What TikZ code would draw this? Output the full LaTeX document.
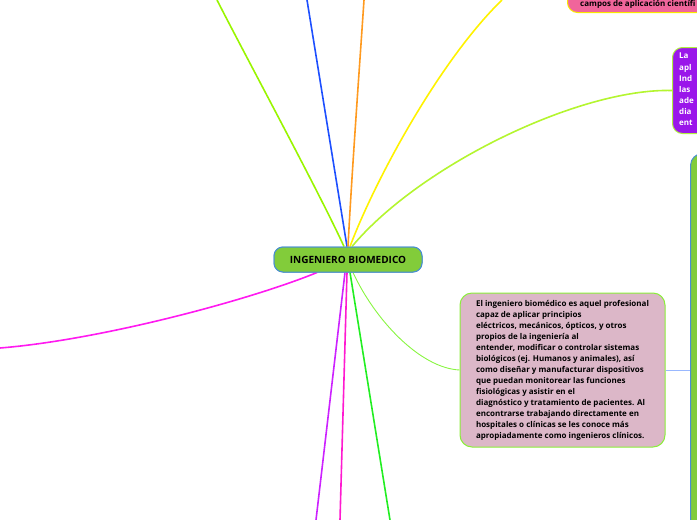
\documentclass[tikz,border=0pt]{standalone}
\usepackage{fontspec}
\setmainfont{Open Sans}
\begin{document}
\begin{tikzpicture}[x=1pt,y=-1pt,
  conn/.style={line width=1.6pt},
  thin conn/.style={line width=0.9pt},
  mainbox/.style={draw=boxblue, fill=boxgreen, line width=1pt, rounded corners=9pt,
    minimum width=148pt, minimum height=25pt, inner sep=0pt,
    font=\bfseries\fontsize{10}{12}\selectfont},
  descbox/.style={draw=descborder, fill=descfill, line width=1pt, rounded corners=12pt,
    minimum width=205pt, minimum height=154pt, align=left, inner sep=0pt,
    font=\bfseries\fontsize{8}{11}\selectfont},
]
\definecolor{boxgreen}{HTML}{82CC3A}
\definecolor{boxblue}{HTML}{4A8FD0}
\definecolor{descfill}{HTML}{DCB7C8}
\definecolor{descborder}{HTML}{8AEE3A}
\definecolor{purplefill}{HTML}{9A16EA}
\definecolor{purpleborder}{HTML}{B0EE40}
\definecolor{pinkfill}{HTML}{F0659B}
\definecolor{pinkborder}{HTML}{F8E800}
\definecolor{lgreen}{HTML}{99F500}
\definecolor{lblue}{HTML}{1D4FFF}
\definecolor{lorange}{HTML}{FF9A1F}
\definecolor{lyellow}{HTML}{FFF200}
\definecolor{lyg}{HTML}{B4F530}
\definecolor{lmag}{HTML}{FF1AF0}
\definecolor{lpurp}{HTML}{CC22FF}
\definecolor{lpink}{HTML}{FF1AD0}
\definecolor{lgreen2}{HTML}{22EE22}
\definecolor{lgreen3}{HTML}{88F540}
\definecolor{lsky}{HTML}{99B8FF}

\useasboundingbox (0,0) rectangle (697,520);

% free ends
\coordinate (eA) at (217,0);
\coordinate (eB) at (307,0);
\coordinate (eC) at (364,0);
\coordinate (eD) at (502,0);
\coordinate (eE) at (0,348);
\coordinate (eF) at (316,520);
\coordinate (eG) at (340,520);
\coordinate (eH) at (390,520);

% boxes at right edge
\node[draw=pinkborder, fill=pinkfill, line width=1pt, rounded corners=10pt,
  minimum width=160pt, minimum height=33pt, anchor=south west, inner sep=0pt]
  (pink) at (567,13) {};
\node[anchor=base west, inner sep=0pt, font=\bfseries\fontsize{8}{9}\selectfont]
  (pinkt) at (580,6.5) {campos de aplicación científi};

\node[draw=purpleborder, fill=purplefill, line width=1pt, rounded corners=10pt,
  minimum width=60pt, minimum height=86pt, anchor=north west, inner sep=0pt]
  (purp) at (672,47) {};
\node[anchor=north west, inner sep=0pt, align=left, text=white,
  font=\bfseries\fontsize{8}{11.1}\selectfont]
  (purpt) at (679,53) {La\\apl\\Ind\\las\\ade\\dia\\ent};

\node[draw=boxblue, fill=boxgreen, line width=1pt, rounded corners=12pt,
  minimum width=40pt, minimum height=400pt, anchor=north west, inner sep=0pt]
  (big) at (690,153) {};

% center node
\node[mainbox] (c) at (348,259.5) {INGENIERO BIOMEDICO};

% description node
\node[descbox] (d) at (562.5,370) {El ingeniero biomédico es aquel profesional\\
capaz de aplicar principios\\
eléctricos, mecánicos, ópticos, y otros\\
propios de la ingeniería al\\
entender, modificar o controlar sistemas\\
biológicos (ej. Humanos y animales), así\\
como diseñar y manufacturar dispositivos\\
que puedan monitorear las funciones\\
fisiológicas y asistir en el\\
diagnóstico y tratamiento de pacientes. Al\\
encontrarse trabajando directamente en\\
hospitales o clínicas se les conoce más\\
apropiadamente como ingenieros clínicos.};

% connectors
\draw[conn, lgreen] ([xshift=-4pt]c.north) .. controls (318,190) and (245,55) .. (eA);
\draw[conn, lblue] ([xshift=-1pt]c.north) -- (eB);
\draw[conn, lorange] ([xshift=0pt]c.north) .. controls (352,170) and (360,60) .. (eC);
\draw[conn, lyellow] ([xshift=2pt]c.north) .. controls (375,180) and (440,60) .. (eD);
\draw[conn, lyg] ([xshift=4pt]c.north) .. controls (420,165) and (580,88) .. (purp.west);
\draw[conn, lmag] ([xshift=-31pt]c.south) .. controls (250,300) and (100,340) .. (eE);
\draw[conn, lpurp] ([xshift=-3pt]c.south) -- (eF);
\draw[conn, lpink] ([xshift=-1pt]c.south) -- (eG);
\draw[conn, lgreen2] ([xshift=2pt]c.south) -- (eH);
\draw[thin conn, lgreen3] ([xshift=5pt]c.south) .. controls (375,320) and (420,368) .. (d.west);
\draw[thin conn, lsky] (d.east) -- (big.west |- d.east);

% redraw center node on top
\node[mainbox] at (c) {INGENIERO BIOMEDICO};
\end{tikzpicture}
\end{document}
